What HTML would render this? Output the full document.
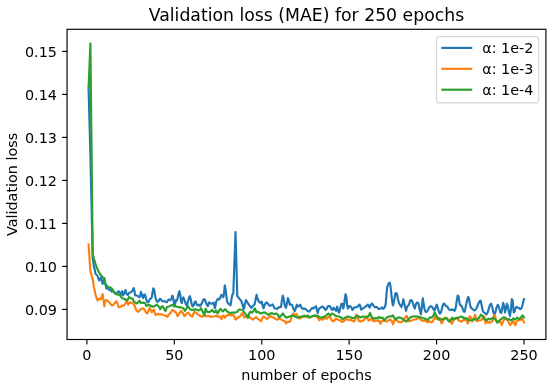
<!DOCTYPE html>
<html><head><meta charset="utf-8"><title>Validation loss</title>
<style>html,body{margin:0;padding:0;background:#fff;width:550px;height:390px;overflow:hidden}svg{display:block}</style>
</head><body>
<svg width="550" height="390" viewBox="0 0 550 390" font-family="'DejaVu Sans', 'Liberation Sans', sans-serif" font-size="14.39" fill="#000"><rect x="0" y="0" width="550" height="390" fill="#fff"/>
<defs><clipPath id="ax"><rect x="67.05" y="29.3" width="478.84999999999997" height="310.2"/></clipPath></defs>
<path d="M88.6,88.3 L90.4,155.0 L92.7,258.0 L93.9,266.0 L95.6,274.0 L97.4,275.5 L99.1,280.5 L100.9,277.5 L102.6,284.0 L104.4,278.2 L105.5,284.6 L106.3,288.5 L107.1,287.7 L108.2,288.5 L109.4,290.0 L110.5,289.6 L111.7,291.5 L112.8,290.8 L114.0,291.9 L115.2,293.5 L116.3,294.2 L117.5,292.3 L118.6,291.2 L119.8,292.7 L120.9,294.6 L122.1,291.2 L123.2,295.4 L124.4,292.7 L125.5,290.0 L126.7,294.2 L127.8,295.0 L129.0,293.1 L130.2,292.3 L131.3,291.9 L132.5,290.8 L133.6,288.1 L134.4,290.8 L135.2,295.4 L136.0,295.3 L137.2,295.7 L138.3,296.5 L139.5,297.2 L140.2,295.3 L141.0,291.8 L141.8,294.2 L142.5,297.2 L143.3,298.0 L144.1,294.9 L144.8,294.5 L145.6,296.5 L146.4,299.9 L147.5,302.2 L148.7,301.5 L149.8,299.2 L151.0,298.4 L151.8,297.2 L152.5,292.6 L153.3,288.4 L154.1,289.5 L154.8,294.2 L155.6,298.0 L156.4,300.7 L157.5,301.8 L158.7,301.1 L159.8,298.8 L161.0,299.5 L162.2,301.1 L163.3,301.5 L164.5,301.1 L165.6,301.8 L166.8,302.2 L167.9,300.3 L169.1,299.5 L170.2,300.3 L171.4,298.8 L172.2,295.7 L172.9,296.5 L173.7,301.5 L174.5,306.5 L175.2,303.4 L176.0,300.0 L176.8,300.4 L177.5,298.5 L178.7,293.1 L179.5,291.2 L180.2,294.6 L181.0,301.5 L181.8,303.1 L182.5,298.5 L183.3,297.3 L184.5,300.0 L185.6,303.5 L186.8,305.8 L187.9,301.5 L189.1,297.7 L189.8,296.2 L190.6,298.5 L191.4,303.1 L192.5,306.5 L193.7,305.4 L194.8,301.9 L195.6,301.5 L196.4,303.8 L197.5,305.4 L198.7,304.6 L199.8,305.8 L201.0,305.0 L202.2,302.3 L203.3,299.6 L204.5,299.2 L205.6,301.5 L206.8,304.6 L207.9,306.2 L209.1,302.3 L210.2,303.1 L211.4,303.8 L212.5,303.5 L213.7,302.7 L214.8,308.1 L215.6,305.4 L216.0,302.6 L216.8,300.3 L217.9,298.8 L219.1,299.5 L220.2,298.0 L221.4,294.9 L222.5,295.7 L223.3,297.2 L224.1,292.6 L224.8,285.3 L225.6,289.5 L226.4,296.5 L227.2,301.8 L228.3,303.4 L229.5,304.5 L230.5,305.3 L231.0,302.6 L231.8,297.2 L232.5,294.2 L233.2,293.8 L233.3,293.8 L235.5,232.0 L237.3,296.2 L237.4,295.8 L238.3,297.4 L239.5,298.9 L241.0,300.5 L242.2,303.5 L243.3,307.4 L244.1,308.5 L244.8,304.3 L246.0,300.1 L247.2,302.0 L248.3,303.9 L249.8,305.8 L251.4,307.8 L252.9,305.8 L254.5,304.7 L255.6,299.7 L256.6,294.7 L257.5,298.5 L259.1,302.0 L260.6,302.8 L261.8,301.6 L262.5,305.1 L263.5,308.5 L264.6,305.1 L265.6,303.2 L266.8,302.4 L267.9,303.5 L269.1,305.5 L270.2,305.8 L271.4,305.1 L272.5,304.3 L273.7,306.6 L274.8,308.5 L276.0,308.5 L277.2,308.9 L278.3,307.8 L279.5,307.0 L281.0,307.0 L281.8,301.2 L282.8,295.5 L283.7,298.9 L284.8,305.8 L286.0,307.8 L287.2,302.0 L287.9,298.2 L288.7,300.1 L289.8,304.7 L291.0,304.3 L292.2,305.1 L293.3,308.5 L294.8,311.2 L296.0,307.4 L296.8,304.7 L297.9,306.6 L299.1,305.8 L300.2,304.7 L301.4,307.4 L302.5,308.9 L303.7,308.5 L305.1,308.9 L306.4,309.7 L307.5,310.8 L308.7,311.6 L309.8,310.8 L311.0,309.3 L312.2,307.8 L313.3,308.5 L314.5,307.4 L315.6,306.6 L316.0,306.2 L316.8,309.6 L317.7,313.1 L318.7,309.2 L319.8,308.1 L321.0,307.3 L322.2,306.5 L323.3,306.9 L324.5,308.5 L325.6,310.0 L326.8,308.5 L327.9,306.2 L329.1,305.8 L330.2,306.5 L331.4,309.2 L332.5,310.0 L333.7,307.7 L334.8,309.2 L336.0,310.8 L337.2,306.5 L338.3,311.5 L339.1,312.7 L340.2,308.5 L341.4,303.8 L342.5,303.8 L343.3,308.5 L344.3,303.5 L345.1,296.9 L345.6,294.2 L346.4,296.9 L347.2,305.4 L347.9,308.5 L349.1,306.2 L350.2,306.2 L351.4,307.3 L352.5,310.0 L353.7,308.1 L354.8,307.3 L356.0,307.3 L357.2,306.9 L358.3,305.8 L359.5,304.6 L360.2,305.4 L361.0,309.6 L362.2,308.8 L363.3,308.1 L364.5,307.3 L365.6,306.5 L366.8,305.8 L367.9,304.6 L368.7,305.4 L369.5,307.7 L370.6,305.4 L371.8,303.5 L372.9,304.6 L374.1,306.5 L375.2,307.3 L376.4,306.9 L377.5,307.7 L378.7,309.2 L379.8,308.8 L381.0,308.1 L382.2,307.3 L383.3,308.8 L384.5,307.7 L385.6,304.6 L386.4,295.4 L387.2,286.9 L387.9,285.4 L388.9,283.1 L389.8,282.7 L390.6,286.9 L391.4,294.6 L392.2,301.5 L392.9,305.4 L393.7,303.1 L394.5,298.5 L395.2,293.8 L396.0,293.2 L396.8,293.5 L397.9,298.9 L399.1,303.5 L400.2,305.1 L401.4,307.0 L402.5,303.5 L403.3,299.3 L404.1,302.8 L405.2,307.4 L406.0,310.8 L406.8,307.4 L407.9,305.8 L409.1,304.3 L410.2,300.5 L411.4,300.1 L412.5,302.0 L413.7,305.8 L414.8,308.5 L416.0,303.8 L417.2,302.3 L418.5,303.8 L419.7,309.4 L420.9,314.3 L421.8,307.5 L422.8,298.3 L423.7,303.8 L424.6,309.4 L425.5,311.7 L426.5,312.1 L427.7,310.6 L429.2,307.5 L430.8,306.0 L432.0,306.9 L433.2,308.8 L434.5,310.6 L435.7,306.9 L436.8,304.7 L437.9,308.2 L439.1,312.4 L440.0,313.7 L441.2,311.8 L442.5,306.2 L443.7,303.5 L444.9,304.2 L446.0,306.3 L447.4,306.6 L448.3,308.5 L449.5,309.7 L450.6,310.1 L451.8,309.3 L452.8,309.7 L453.8,310.5 L454.8,310.8 L455.8,307.4 L456.8,300.5 L457.7,295.5 L458.5,296.2 L459.2,301.2 L460.0,305.1 L461.0,305.5 L462.0,306.6 L462.9,309.3 L463.8,311.6 L464.8,311.6 L466.0,305.1 L467.2,299.7 L468.2,297.0 L468.9,298.2 L469.7,303.2 L470.6,307.0 L471.8,308.5 L472.9,309.3 L474.1,310.5 L475.1,310.1 L476.0,309.1 L477.2,306.8 L478.3,303.7 L479.5,301.4 L480.6,300.6 L481.8,306.0 L482.9,311.4 L484.1,312.5 L485.2,313.3 L486.4,314.5 L487.5,312.9 L488.7,309.1 L489.8,305.2 L491.0,303.7 L492.2,306.8 L493.3,312.2 L494.5,314.5 L495.6,311.4 L496.8,306.8 L497.9,304.8 L499.1,307.5 L500.2,312.2 L501.4,312.9 L502.5,306.8 L503.2,302.8 L504.2,306.9 L505.1,312.5 L506.0,307.9 L506.9,303.7 L507.8,306.0 L508.8,311.5 L510.0,316.2 L510.9,309.7 L511.8,299.1 L512.7,300.5 L513.7,312.5 L514.6,311.5 L515.5,308.3 L516.4,306.9 L517.5,307.4 L518.9,307.9 L520.3,309.2 L521.7,307.9 L522.9,303.2 L523.8,299.5 L524.0,299.1" fill="none" stroke="#1f77b4" stroke-width="2.16" stroke-linejoin="round" stroke-linecap="square" clip-path="url(#ax)"/>
<path d="M88.6,244.4 L90.4,271.0 L92.7,279.5 L93.9,287.0 L95.6,295.0 L97.4,300.5 L99.1,298.6 L100.9,299.2 L102.6,294.1 L104.4,306.3 L105.2,300.8 L106.3,300.0 L107.5,300.8 L108.6,301.9 L109.8,303.1 L110.9,304.6 L112.1,305.4 L113.2,305.0 L114.4,303.8 L115.5,301.9 L116.3,301.2 L117.5,303.8 L118.6,307.3 L119.8,306.9 L120.9,306.5 L122.5,305.8 L124.0,305.4 L125.2,303.8 L126.3,301.5 L127.1,301.2 L128.2,304.6 L129.4,303.1 L130.5,302.3 L131.7,303.1 L132.8,303.5 L134.0,304.6 L134.8,306.2 L136.0,309.9 L137.2,311.1 L138.3,311.8 L139.5,310.7 L140.6,309.2 L142.2,308.4 L143.7,308.8 L144.8,309.9 L146.0,312.6 L147.2,313.4 L148.3,311.5 L149.5,308.0 L150.6,309.9 L151.8,312.2 L152.9,310.3 L154.1,309.9 L155.2,314.5 L156.4,314.9 L157.5,313.8 L159.1,314.5 L160.6,314.2 L162.2,314.5 L163.7,315.3 L165.2,315.7 L166.4,316.1 L167.5,316.8 L168.7,314.5 L170.2,313.4 L171.4,311.5 L172.5,309.9 L173.7,310.7 L174.8,311.8 L176.0,312.3 L177.5,316.2 L179.1,313.8 L181.0,310.8 L182.9,313.1 L184.5,316.2 L186.4,313.8 L188.3,312.7 L190.2,315.4 L192.2,316.5 L194.5,311.5 L196.4,313.1 L198.3,314.6 L200.2,315.8 L202.2,316.9 L204.1,315.4 L206.0,316.5 L208.3,315.8 L210.6,316.9 L212.9,316.5 L215.2,316.2 L216.8,315.4 L217.8,316.9 L219.1,316.2 L220.3,316.9 L221.4,319.2 L222.5,316.2 L223.7,315.4 L224.9,317.7 L226.0,316.2 L227.1,315.4 L228.3,314.6 L229.5,315.4 L230.6,314.6 L231.7,315.4 L232.9,314.6 L234.2,316.2 L235.2,319.2 L236.0,319.6 L237.5,317.5 L239.3,317.1 L241.1,314.9 L242.2,313.1 L243.3,315.6 L244.4,317.5 L245.8,317.1 L246.9,315.6 L248.4,315.6 L249.8,317.5 L251.3,318.5 L252.7,319.6 L254.5,318.2 L256.4,317.1 L257.8,318.9 L259.3,320.0 L261.1,321.1 L262.5,318.2 L263.6,316.4 L265.1,317.5 L266.5,318.9 L268.0,318.2 L269.5,316.7 L270.9,316.0 L272.4,317.1 L273.8,317.8 L276.0,319.3 L277.5,319.6 L279.3,318.2 L281.1,319.3 L282.9,320.4 L284.7,321.1 L286.2,323.3 L287.6,321.8 L289.5,321.8 L290.9,319.6 L292.0,315.3 L293.5,313.5 L294.9,314.9 L296.7,314.2 L298.2,317.5 L299.6,318.5 L301.5,317.5 L303.3,316.4 L305.1,316.7 L306.5,316.4 L308.4,317.5 L310.2,317.1 L312.0,316.7 L313.8,315.6 L316.0,316.2 L317.5,317.3 L319.3,320.2 L321.1,318.0 L322.9,319.8 L324.7,317.3 L326.5,319.1 L328.4,316.9 L329.8,316.5 L331.3,319.8 L332.7,321.3 L334.2,320.9 L335.6,318.7 L337.1,319.1 L338.9,320.2 L340.4,320.2 L341.8,322.0 L343.3,321.6 L344.7,320.5 L346.5,319.1 L348.4,319.8 L350.2,319.8 L352.0,320.5 L354.0,321.6 L355.1,319.8 L356.2,314.7 L357.3,316.9 L358.7,320.9 L360.2,321.6 L362.0,320.9 L363.5,320.5 L364.9,318.7 L366.7,316.5 L368.2,320.2 L369.3,320.5 L370.7,318.7 L371.8,319.5 L373.3,320.9 L374.4,321.3 L375.8,320.5 L377.6,320.9 L379.1,320.5 L380.5,323.8 L382.0,321.3 L383.5,320.2 L384.9,320.9 L386.4,321.6 L387.8,320.9 L390.0,319.5 L391.5,320.5 L392.9,324.2 L394.0,322.0 L395.1,318.7 L396.5,320.5 L398.0,321.6 L399.5,322.0 L400.9,322.4 L402.4,321.6 L403.8,319.5 L405.3,317.3 L406.7,315.8 L407.8,319.5 L409.3,321.3 L411.1,320.9 L412.9,319.8 L414.7,319.5 L416.5,319.1 L418.0,318.0 L419.8,318.4 L421.3,320.2 L423.1,320.9 L424.9,320.5 L426.4,321.6 L427.8,322.4 L430.0,321.3 L431.5,322.4 L432.9,320.9 L434.4,318.7 L435.5,316.9 L436.9,319.1 L438.4,318.7 L439.8,318.0 L441.6,323.5 L443.1,320.5 L444.5,318.0 L446.0,317.6 L447.5,318.7 L448.9,320.2 L450.4,320.5 L451.8,323.8 L453.3,320.5 L455.1,318.0 L456.9,318.4 L458.7,320.5 L460.2,321.3 L461.6,321.6 L463.1,320.2 L464.9,319.5 L466.4,320.5 L467.8,323.5 L469.3,316.9 L470.0,316.2 L471.1,318.4 L472.5,321.3 L474.0,318.0 L475.1,314.7 L476.2,319.1 L477.3,321.3 L478.7,320.2 L480.2,320.5 L481.6,319.8 L483.5,316.2 L484.5,316.9 L485.6,323.5 L487.1,320.9 L488.5,322.7 L490.0,322.4 L491.5,322.0 L492.9,320.5 L494.0,315.1 L495.1,316.5 L496.2,320.5 L497.6,321.6 L499.1,320.5 L500.5,322.0 L501.6,324.9 L502.7,322.7 L503.8,319.8 L504.9,318.0 L506.2,319.1 L508.0,320.5 L509.8,324.9 L511.3,324.2 L512.7,320.5 L514.2,322.7 L515.3,325.3 L516.7,321.3 L518.2,320.5 L519.6,320.2 L521.1,319.5 L522.5,319.1 L524.0,322.4 L524.0,322.4" fill="none" stroke="#ff7f0e" stroke-width="2.16" stroke-linejoin="round" stroke-linecap="square" clip-path="url(#ax)"/>
<path d="M88.6,87.7 L90.4,43.4 L92.7,254.0 L93.9,258.5 L95.6,264.0 L97.4,269.0 L99.1,272.5 L100.9,275.3 L102.6,277.0 L104.4,280.0 L105.2,283.8 L106.3,285.0 L107.5,286.2 L108.6,287.3 L109.8,287.7 L110.9,287.7 L112.1,288.8 L113.2,290.8 L114.4,292.7 L115.5,293.8 L116.7,294.2 L117.8,294.6 L119.0,295.0 L120.2,295.4 L121.3,297.3 L122.5,298.5 L123.6,298.8 L124.8,298.8 L125.9,300.0 L127.1,300.4 L128.2,298.8 L129.0,296.9 L130.2,298.1 L131.3,298.5 L132.5,298.5 L133.6,301.2 L134.8,302.3 L136.0,303.0 L137.2,303.4 L138.3,301.8 L139.5,300.7 L140.6,303.0 L141.8,302.6 L142.9,303.0 L144.1,302.6 L145.2,303.4 L146.4,306.1 L147.5,305.3 L148.7,304.5 L149.8,305.3 L151.0,306.5 L152.2,306.1 L153.3,306.8 L154.5,306.1 L155.6,305.3 L156.8,304.5 L157.9,305.7 L159.1,306.8 L160.2,309.2 L161.4,306.8 L162.5,306.1 L163.7,308.0 L164.8,310.3 L165.6,311.1 L166.8,307.2 L167.9,306.8 L169.1,306.5 L170.2,305.7 L171.4,305.3 L172.5,304.9 L173.7,306.1 L174.8,305.3 L176.0,306.5 L177.5,306.9 L179.1,307.3 L180.6,307.3 L182.2,307.7 L183.7,308.8 L184.8,310.8 L186.0,309.2 L187.2,307.3 L188.3,306.2 L189.5,308.5 L190.6,309.6 L192.2,310.0 L193.7,309.6 L195.2,309.2 L196.8,309.6 L198.3,310.4 L199.8,310.0 L201.0,308.1 L202.2,310.8 L203.3,313.1 L204.5,315.0 L205.6,308.8 L206.8,311.2 L207.9,312.3 L209.5,311.9 L211.0,311.2 L212.2,310.0 L213.7,311.9 L214.8,312.3 L216.0,310.3 L216.4,311.1 L217.5,313.4 L218.3,312.6 L219.5,309.9 L220.6,308.8 L221.8,310.3 L222.9,311.5 L224.1,310.3 L225.2,309.2 L226.4,310.3 L227.5,311.8 L229.1,312.6 L230.6,313.0 L232.2,312.6 L233.7,312.6 L235.2,312.6 L236.0,312.4 L237.5,311.6 L238.9,309.5 L240.7,309.8 L242.5,309.5 L244.0,312.0 L245.5,314.2 L246.9,315.6 L248.0,317.8 L249.1,313.5 L250.5,311.6 L252.0,312.7 L253.5,310.9 L254.9,308.4 L256.4,312.4 L257.8,311.6 L259.3,312.7 L261.1,313.5 L262.9,312.7 L264.7,312.4 L266.5,313.5 L268.4,314.9 L270.2,313.5 L272.0,313.1 L273.8,314.2 L276.0,313.5 L277.5,314.2 L279.3,317.5 L281.1,315.6 L282.9,313.5 L284.4,315.6 L286.2,317.8 L288.0,317.1 L289.8,316.4 L291.6,316.0 L293.5,315.6 L295.3,316.7 L297.1,317.5 L298.9,317.1 L300.7,316.7 L302.5,316.4 L304.4,315.6 L306.2,316.4 L308.0,315.6 L309.5,317.5 L310.9,316.7 L312.7,316.0 L314.5,315.6 L316.0,315.5 L317.8,315.8 L319.6,317.3 L321.5,317.6 L323.3,316.9 L325.1,316.5 L326.9,314.7 L328.4,313.6 L330.2,315.5 L332.0,313.6 L333.8,314.4 L335.6,315.8 L337.5,316.2 L339.3,316.5 L341.1,317.6 L342.9,319.1 L344.7,318.0 L346.5,316.9 L348.4,316.5 L350.2,317.3 L352.0,318.0 L354.4,318.0 L356.2,316.2 L358.0,315.8 L359.8,317.6 L361.6,316.9 L363.5,316.5 L365.3,316.9 L367.1,317.3 L368.5,316.2 L370.0,312.9 L371.1,315.5 L372.5,318.0 L374.0,318.7 L375.5,318.0 L377.3,318.4 L379.1,316.9 L380.5,318.0 L382.4,317.6 L384.2,320.2 L385.6,318.7 L387.8,316.9 L390.0,316.2 L391.5,316.5 L392.9,315.5 L394.4,318.0 L395.8,319.5 L397.3,318.0 L399.1,317.3 L400.9,318.0 L402.7,318.7 L404.5,320.5 L406.4,321.6 L407.8,320.2 L409.6,318.0 L411.5,316.9 L413.3,316.5 L415.1,316.2 L416.9,316.5 L418.7,316.9 L420.5,317.3 L422.4,318.0 L424.2,318.4 L426.0,319.1 L427.8,320.2 L430.0,317.3 L431.5,317.6 L433.3,316.2 L434.7,312.5 L436.2,315.5 L437.6,317.6 L439.1,319.8 L440.9,319.5 L442.7,319.1 L444.5,318.7 L446.4,318.0 L447.8,320.2 L449.3,321.6 L450.7,319.8 L452.2,317.6 L453.6,319.5 L455.1,318.7 L456.9,317.6 L458.7,318.0 L460.5,316.5 L462.4,316.9 L464.2,318.4 L466.0,318.0 L467.8,319.8 L470.0,320.5 L471.8,320.2 L473.6,319.1 L475.5,319.8 L477.3,319.1 L479.1,317.6 L480.9,314.7 L482.7,316.2 L484.5,319.5 L486.4,320.2 L488.2,318.7 L490.0,319.5 L491.8,318.4 L493.6,318.0 L495.5,319.5 L497.3,322.7 L498.7,321.6 L500.2,319.8 L502.0,318.4 L503.5,317.3 L505.1,317.6 L506.9,319.5 L508.4,319.1 L510.2,319.8 L511.6,320.2 L513.5,318.4 L515.3,319.5 L517.1,317.6 L518.9,319.1 L520.7,318.0 L522.5,315.5 L524.0,317.3 L524.0,317.3" fill="none" stroke="#2ca02c" stroke-width="2.16" stroke-linejoin="round" stroke-linecap="square" clip-path="url(#ax)"/>
<rect x="67.05" y="29.3" width="478.84999999999997" height="310.2" fill="none" stroke="#000" stroke-width="1.15" stroke-linejoin="miter"/>
<line x1="86.90" y1="339.5" x2="86.90" y2="344.53" stroke="#000" stroke-width="1.15"/>
<text x="86.90" y="360.16" text-anchor="middle">0</text>
<line x1="174.32" y1="339.5" x2="174.32" y2="344.53" stroke="#000" stroke-width="1.15"/>
<text x="174.32" y="360.16" text-anchor="middle">50</text>
<line x1="261.74" y1="339.5" x2="261.74" y2="344.53" stroke="#000" stroke-width="1.15"/>
<text x="261.74" y="360.16" text-anchor="middle">100</text>
<line x1="349.16" y1="339.5" x2="349.16" y2="344.53" stroke="#000" stroke-width="1.15"/>
<text x="349.16" y="360.16" text-anchor="middle">150</text>
<line x1="436.58" y1="339.5" x2="436.58" y2="344.53" stroke="#000" stroke-width="1.15"/>
<text x="436.58" y="360.16" text-anchor="middle">200</text>
<line x1="524.00" y1="339.5" x2="524.00" y2="344.53" stroke="#000" stroke-width="1.15"/>
<text x="524.00" y="360.16" text-anchor="middle">250</text>
<line x1="62.02" y1="309.40" x2="67.05" y2="309.40" stroke="#000" stroke-width="1.15"/>
<text x="56.99" y="314.80" text-anchor="end">0.09</text>
<line x1="62.02" y1="266.40" x2="67.05" y2="266.40" stroke="#000" stroke-width="1.15"/>
<text x="56.99" y="271.80" text-anchor="end">0.10</text>
<line x1="62.02" y1="223.40" x2="67.05" y2="223.40" stroke="#000" stroke-width="1.15"/>
<text x="56.99" y="228.80" text-anchor="end">0.11</text>
<line x1="62.02" y1="180.40" x2="67.05" y2="180.40" stroke="#000" stroke-width="1.15"/>
<text x="56.99" y="185.80" text-anchor="end">0.12</text>
<line x1="62.02" y1="137.40" x2="67.05" y2="137.40" stroke="#000" stroke-width="1.15"/>
<text x="56.99" y="142.80" text-anchor="end">0.13</text>
<line x1="62.02" y1="94.40" x2="67.05" y2="94.40" stroke="#000" stroke-width="1.15"/>
<text x="56.99" y="99.80" text-anchor="end">0.14</text>
<line x1="62.02" y1="51.40" x2="67.05" y2="51.40" stroke="#000" stroke-width="1.15"/>
<text x="56.99" y="56.80" text-anchor="end">0.15</text>
<text x="306.47" y="380.4" text-anchor="middle">number of epochs</text>
<text transform="translate(16.5,184.40) rotate(-90)" text-anchor="middle">Validation loss</text>
<text x="306.47" y="20.6" text-anchor="middle" font-size="17.27">Validation loss (MAE) for 250 epochs</text>
<rect x="436.5" y="36.6" width="102.20" height="66.30" rx="2.8" fill="#fff" fill-opacity="0.8" stroke="#ccc" stroke-opacity="0.8" stroke-width="1.15"/>
<line x1="442.4" y1="47.90" x2="471.2" y2="47.90" stroke="#1f77b4" stroke-width="2.16" stroke-linecap="square"/>
<text x="482.2" y="53.30">α: 1e-2</text>
<line x1="442.4" y1="68.80" x2="471.2" y2="68.80" stroke="#ff7f0e" stroke-width="2.16" stroke-linecap="square"/>
<text x="482.2" y="74.20">α: 1e-3</text>
<line x1="442.4" y1="89.70" x2="471.2" y2="89.70" stroke="#2ca02c" stroke-width="2.16" stroke-linecap="square"/>
<text x="482.2" y="95.10">α: 1e-4</text></svg>
</body></html>
